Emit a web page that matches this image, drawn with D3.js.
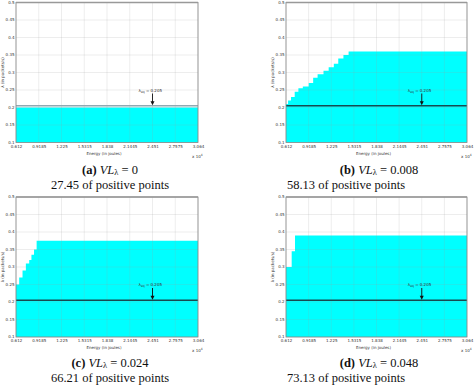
<!DOCTYPE html>
<html lang="en">
  <head>
    <meta charset="utf-8" />
    <script src="https://d3js.org/d3.v7.min.js"></script>
    <style type="text/css">
      body {
        margin: 0;
        background-color: white;
      }
      svg#fig {
        display: block;
      }
      .tick-label {
        font-family: "DejaVu Sans", sans-serif;
        font-size: 4px;
        fill: #333;
      }
      .caption {
        font-family: "Liberation Serif", serif;
        font-size: 12.5px;
        fill: #111;
      }
    </style>
  </head>

  <body>
    <svg xmlns="http://www.w3.org/2000/svg" id="fig" width="474" height="386"></svg>

    <script>
      let xTicks = [0.612, 0.9185, 1.225, 1.5315, 1.838, 2.1445, 2.451, 2.7575, 3.064];
      let xTickLabels = ["0.612", "0.9185", "1.225", "1.5315", "1.838", "2.1445", "2.451", "2.7575", "3.064"];
      let yTicks = [0.1, 0.15, 0.2, 0.25, 0.3, 0.35, 0.4, 0.45, 0.5];
      let yTickLabels = ["0.1", "0.15", "0.2", "0.25", "0.3", "0.35", "0.4", "0.45", "0.5"];
      let lambdaEq = 0.205;

      // [energy, upper bound of the positive region]
      let stepsA = [[0.612, 0.2], [3.064, 0.2]];
      let stepsB = [
        [0.612, 0.21], [0.64, 0.22], [0.68, 0.23], [0.73, 0.245], [0.78, 0.255],
        [0.84, 0.26], [0.92, 0.27], [0.98, 0.285], [1.04, 0.295], [1.12, 0.305],
        [1.19, 0.315], [1.26, 0.325], [1.32, 0.34], [1.39, 0.35], [1.46, 0.36],
        [3.064, 0.36]
      ];
      let stepsC = [
        [0.612, 0.25], [0.655, 0.27], [0.7, 0.29], [0.745, 0.31], [0.79, 0.32],
        [0.82, 0.335], [0.855, 0.35], [0.89, 0.375], [3.064, 0.375]
      ];
      let stepsD = [[0.612, 0.3], [0.689, 0.345], [0.734, 0.39], [3.064, 0.39]];

      let captionLetters = ["(a)", "(b)", "(c)", "(d)"];
      let captionValues = ["0", "0.008", "0.024", "0.048"];
      let positivePoints = ["27.45", "58.13", "66.21", "73.13"];

      let panels = [
        { steps: stepsA, x0: 16, x1: 198, y0: 2.5, y1: 142.5, c1: 110, c2: 110, cy: 174, lineColor: "#8fa9b2" },
        { steps: stepsB, x0: 286, x1: 467, y0: 2.5, y1: 142.5, c1: 379, c2: 346, cy: 174, lineColor: "#174a50" },
        { steps: stepsC, x0: 16, x1: 198, y0: 197, y1: 337, c1: 110, c2: 110, cy: 367, lineColor: "#174a50" },
        { steps: stepsD, x0: 286, x1: 467, y0: 197, y1: 337, c1: 379, c2: 346, cy: 367, lineColor: "#174a50" }
      ];

      let svg = d3.select("#fig");

      function draw_panel(p, i) {
        let g = svg.append("g");
        let x = d3.scaleLinear([0.612, 3.064], [p.x0, p.x1]);
        let y = d3.scaleLinear([0.1, 0.5], [p.y1, p.y0]);

        // positive region
        let area = d3
          .area()
          .curve(d3.curveStepAfter)
          .x((d) => x(d[0]))
          .y0(y(0.1))
          .y1((d) => y(d[1]));
        g.append("path").datum(p.steps).attr("d", area).attr("fill", "#00ffff");

        // grid
        g.selectAll(".vgrid")
          .data(xTicks)
          .enter()
          .append("line")
          .attr("x1", (d) => x(d))
          .attr("x2", (d) => x(d))
          .attr("y1", p.y0)
          .attr("y2", p.y1)
          .attr("stroke", "#999")
          .attr("stroke-opacity", 0.3)
          .attr("stroke-width", 0.6);
        g.selectAll(".hgrid")
          .data(yTicks)
          .enter()
          .append("line")
          .attr("x1", p.x0)
          .attr("x2", p.x1)
          .attr("y1", (d) => y(d))
          .attr("y2", (d) => y(d))
          .attr("stroke", "#999")
          .attr("stroke-opacity", 0.3)
          .attr("stroke-width", 0.6);

        // lambda_eq line
        g.append("line")
          .attr("x1", p.x0)
          .attr("x2", p.x1)
          .attr("y1", y(lambdaEq))
          .attr("y2", y(lambdaEq))
          .attr("stroke", p.lineColor)
          .attr("stroke-width", 1.3);

        // box
        g.append("rect")
          .attr("x", p.x0)
          .attr("y", p.y0)
          .attr("width", p.x1 - p.x0)
          .attr("height", p.y1 - p.y0)
          .attr("fill", "none")
          .attr("stroke", "#888")
          .attr("stroke-width", 0.8);
        g.append("line")
          .attr("x1", p.x0)
          .attr("x2", p.x1)
          .attr("y1", p.y0)
          .attr("y2", p.y0)
          .attr("stroke", "#999")
          .attr("stroke-width", 1.6);

        // axes
        let xAxis = d3
          .axisBottom(x)
          .tickValues(xTicks)
          .tickFormat((d, k) => xTickLabels[k])
          .tickSize(0)
          .tickPadding(2.2);
        let ax = g.append("g").attr("transform", "translate(0," + p.y1 + ")").call(xAxis);
        ax.select(".domain").remove();
        ax.selectAll("text").attr("class", "tick-label").attr("font-size", null).attr("font-family", null);

        let yAxis = d3
          .axisLeft(y)
          .tickValues(yTicks)
          .tickFormat((d, k) => yTickLabels[k])
          .tickSize(0)
          .tickPadding(1.5);
        let ay = g.append("g").attr("transform", "translate(" + p.x0 + ",0)").call(yAxis);
        ay.select(".domain").remove();
        ay.selectAll("text")
          .attr("class", "tick-label")
          .attr("font-size", null)
          .attr("font-family", null)
          .attr("dy", "0.2em");

        g.append("text")
          .attr("class", "tick-label")
          .attr("x", (p.x0 + p.x1) / 2 - 3)
          .attr("y", p.y1 + 12)
          .attr("text-anchor", "middle")
          .text("Energy (in joules)");
        let ex = g.append("text")
          .attr("class", "tick-label")
          .attr("x", p.x1 - 6)
          .attr("y", p.y1 + 15);
        ex.append("tspan").text("x 10");
        ex.append("tspan").attr("dy", -1.8).attr("font-size", "3px").text("4");

        g.append("text")
          .attr("class", "tick-label")
          .attr("transform", "translate(" + (p.x0 - 12) + "," + (p.y0 + p.y1) / 2 + ") rotate(-90)")
          .attr("text-anchor", "middle")
          .text("\u03bb (in packets/s)");

        // annotation
        let ann = g.append("text")
          .attr("class", "tick-label")
          .attr("x", x(2.451) - 14)
          .attr("y", y(0.25) + 1.5);
        ann.append("tspan").text("\u03bb");
        ann.append("tspan").attr("dy", 1.2).attr("font-size", "3px").text("eq");
        ann.append("tspan").attr("dy", -1.2).text(" = 0.205");
        g.append("line")
          .attr("x1", x(2.451))
          .attr("x2", x(2.451))
          .attr("y1", y(0.24))
          .attr("y2", y(lambdaEq) - 3)
          .attr("stroke", "#111")
          .attr("stroke-width", 0.9);
        let ah = y(lambdaEq) - 0.5;
        g.append("path")
          .attr("d", d3.line()([[x(2.451) - 2, ah - 4], [x(2.451) + 2, ah - 4], [x(2.451), ah]]))
          .attr("fill", "#111");

        // caption
        let t1 = g.append("text").attr("class", "caption").attr("x", p.c1).attr("y", p.cy).attr("text-anchor", "middle");
        t1.append("tspan").attr("font-weight", "bold").text(captionLetters[i] + " ");
        t1.append("tspan").attr("font-style", "italic").text("VL");
        t1.append("tspan").attr("font-size", "8.5px").attr("dy", 1.2).text("\u03bb");
        t1.append("tspan").attr("dy", -1.2).text(" = " + captionValues[i]);

        g.append("text")
          .attr("class", "caption")
          .attr("x", p.c2)
          .attr("y", p.cy + 14.5)
          .attr("text-anchor", "middle")
          .text(positivePoints[i] + " of positive points");
      }

      panels.forEach(draw_panel);
    </script>
  </body>
</html>
